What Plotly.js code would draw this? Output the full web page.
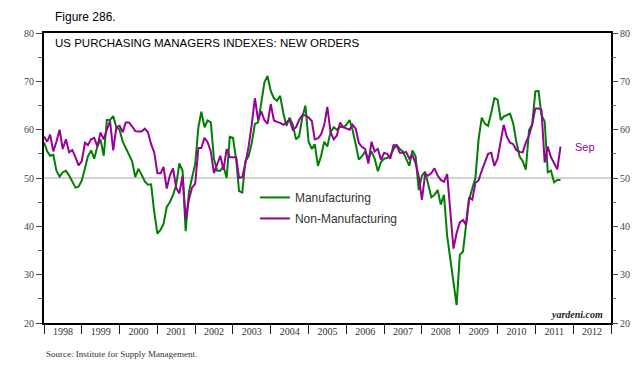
<!DOCTYPE html>
<html><head><meta charset="utf-8">
<script src="https://cdn.plot.ly/plotly-3.0.1.min.js"></script>
<style>html,body{margin:0;padding:0;background:#fff}#chart{width:640px;height:371px}</style>
</head><body><div id="chart"></div>
<script>
// Monthly data, Jan 1998 .. Sep 2011
const startYear = 1998;
const manufacturing = [
57.4,55.5,54.6,54.8,51.5,50.3,51.2,51.5,50.5,49.2,
48,48.2,49.5,52,54.5,55.7,54,56.5,58,54.6,
62,62,62.8,60.5,60,57.5,56.3,55,53.5,50.2,
51.9,50.7,49.3,48.6,48.7,43,38.5,39.3,40.5,44,
45,46.5,48.5,53,51.5,39,47,50,52.9,60.5,
63.7,60.5,61.9,61.5,54,51.5,51.5,52.5,50,58.5,
58.3,53.8,47.3,47,53.5,54.5,57.2,61.2,61.5,65.5,
69.8,71.1,68,66.5,66,67,63.5,60.8,62.5,61,
58,58.6,62.5,65,57.5,56,57,52.5,54.5,57.5,
56.5,59.5,60.5,60,60.6,60.5,61,
62,60,57,53.8,54.5,55.5,54,55.5,54,51.4,
53.3,54,54.2,54.5,56,56.8,56,55.5,54,52.5,
55.7,54.5,47.5,50.5,51.3,48.5,46,46.5,47.5,44.5,
46.5,38,33,28,23.7,34.1,34.8,40,45.5,47.8,
50,57.9,62.5,61.2,60.8,63.5,66.5,66.2,62,62.7,
63,
63.3,61.3,57.5,54.5,53.5,51.7,59.9,61,
67.9,68,63,61.7,51.2,51.5,49.1,49.6,49.6
];
const nonManufacturing = [
58.6,57.5,59,55.5,57.5,60,56,58,55.3,55.8,
54.3,52.6,53.5,57.3,56.8,58,58.3,56.5,59.4,58,
60,61.8,55.7,60.5,60.8,59.5,61.5,61.5,60.7,59.7,
59.6,59.6,60.2,59.5,57,55.3,51,51,52.3,47.8,
50.5,52,48,46.8,50.5,41.5,45.5,48,48.8,56.2,
56.2,58.3,57.4,55.5,51,52.9,54.6,51.7,56,54.3,
54.3,54.3,50,50.2,53,56.5,61,66.5,62,63.8,
62,61.2,65.3,61.9,61.6,61.4,61,61.6,62,60,
60.5,62,63,63,62.5,61.8,58,58.2,59,61,
64.7,59.5,58,58.8,61.5,60.5,60.3,
60,61,60.2,57.3,56.4,56,53,57.5,55.5,56,
53.8,55.2,55,54,56.8,56.8,55.2,55.2,55.4,54,
54.8,53,50.3,45.5,50.8,50.5,51,52,50.5,49.6,
49.2,50.8,43.5,35.4,38.6,40.8,41.3,40.3,46,45.5,
49,49.5,51.5,53.2,55,55.2,52.5,54,58,61,
58.5,
57.3,57,55.8,55.4,55.3,57.3,58.8,61,
64.4,64.4,64.1,53.2,56.5,54.3,53.2,51.8,56.5
];
const seriesNames = ['Manufacturing', 'Non-Manufacturing'];
const seriesColors = ['#008000', '#990099'];
const lastLabel = 'Sep';
const xRange = ['1998-01-01', '2013-01-01'];

const dates = manufacturing.map((_, i) => {
  const y = startYear + Math.floor(i / 12);
  const m = (i % 12) + 1;
  return y + '-' + String(m).padStart(2, '0') + '-01';
});

const serif = 'Liberation Serif, Times New Roman, serif';
const sans = 'Liberation Sans, Arial, sans-serif';

const traces = [
  {x: dates, y: manufacturing, type: 'scatter', mode: 'lines', name: seriesNames[0], legendgroup: 'a',
   line: {color: seriesColors[0], width: 2}, hoverinfo: 'skip'},
  {x: dates, y: nonManufacturing, type: 'scatter', mode: 'lines', name: seriesNames[1], legendgroup: 'b',
   line: {color: seriesColors[1], width: 2}, hoverinfo: 'skip'},
  {x: [null], y: [null], yaxis: 'y2', showlegend: false, hoverinfo: 'skip', mode: 'lines'},
  {x: [null], y: [null], xaxis: 'x2', showlegend: false, hoverinfo: 'skip', mode: 'lines'}
];

const yCommon = {
  range: [20, 80], dtick: 10, tick0: 20, ticks: 'outside', ticklen: 6, tickwidth: 1, tickcolor: '#444',
  minor: {dtick: 5, ticks: 'outside', ticklen: 4, tickcolor: '#666', showgrid: false},
  showgrid: false, zeroline: false, fixedrange: true,
  tickfont: {family: serif, size: 10, color: '#444'}
};

const layout = {
  width: 640, height: 371,
  margin: {l: 44, r: 29, t: 33, b: 48},
  paper_bgcolor: '#fff', plot_bgcolor: '#fff',
  showlegend: true,
  legend: {x: 0.372, xanchor: 'left', y: 0.483, yanchor: 'top', bgcolor: 'rgba(0,0,0,0)',
           font: {family: sans, size: 12, color: '#333'}, traceorder: 'grouped', tracegroupgap: 2},
  xaxis: {
    type: 'date', range: xRange, tick0: '1998-01-01', dtick: 'M12',
    tickformat: '%Y', ticklabelmode: 'period', ticks: '', ticklabelstandoff: -2,
    showline: true, linecolor: '#000', linewidth: 2, mirror: true, showgrid: false, zeroline: false,
    tickfont: {family: serif, size: 10, color: '#333'}
  },
  xaxis2: {
    type: 'date', range: xRange, tick0: '1998-01-01', dtick: 'M12', overlaying: 'x', anchor: 'y', side: 'bottom',
    ticks: 'outside', ticklen: 10, tickcolor: '#222', tickwidth: 1, showticklabels: false,
    showline: false, showgrid: false, zeroline: false
  },
  yaxis: Object.assign({}, yCommon, {showline: true, linecolor: '#000', linewidth: 2, mirror: true}),
  yaxis2: Object.assign({}, yCommon, {overlaying: 'y', side: 'right', showline: false}),
  shapes: [
    {type: 'line', xref: 'paper', x0: 0, x1: 1, yref: 'y', y0: 50, y1: 50,
     line: {color: '#c4c4c4', width: 1.5}, layer: 'below'}
  ],
  annotations: [
    {text: 'Figure 286.', xref: 'paper', yref: 'paper', x: 0.0159, y: 1.055, xanchor: 'left', yanchor: 'middle',
     showarrow: false, font: {family: sans, size: 12, color: '#000'}},
    {text: 'US PURCHASING MANAGERS INDEXES: NEW ORDERS', xref: 'paper', yref: 'paper', x: 0.0159, y: 0.9655,
     xanchor: 'left', yanchor: 'middle', showarrow: false, font: {family: sans, size: 11.5, color: '#000'}},
    {text: lastLabel, xref: 'paper', yref: 'paper', x: 0.933, y: 0.607, xanchor: 'left', yanchor: 'middle',
     showarrow: false, font: {family: sans, size: 11, color: seriesColors[1]}},
    {text: '<b><i>yardeni.com</i></b>', xref: 'paper', yref: 'paper', x: 0.989, y: 0.028, xanchor: 'right',
     yanchor: 'middle', showarrow: false, font: {family: serif, size: 10, color: '#222'}},
    {text: 'Source: Institute for Supply Management.', xref: 'paper', yref: 'paper', x: 0, y: -0.107,
     xanchor: 'left', yanchor: 'middle', showarrow: false, font: {family: serif, size: 9, color: '#333'}}
  ]
};

Plotly.newPlot('chart', traces, layout, {staticPlot: true, displayModeBar: false});
</script>
</body></html>
